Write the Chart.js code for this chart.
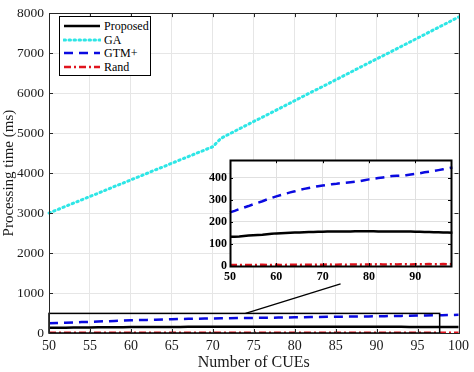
<!DOCTYPE html>
<html>
<head>
<meta charset="utf-8">
<script src="https://cdn.jsdelivr.net/npm/chart.js@4.4.1/dist/chart.umd.min.js"></script>
<style>
  html, body { margin: 0; padding: 0; background: #fff; }
  #wrap { position: relative; width: 474px; height: 372px; overflow: hidden; font-family: "Liberation Serif", serif; }
  #main { position: absolute; left: 0; top: 0; }
  #inset { position: absolute; left: 195px; top: 150px; }
  #legend { position: absolute; left: 59px; top: 16px; width: 90px; height: 58px; border: 1px solid #000; background: #fff; }
  #legend .row { position: absolute; left: 3px; height: 14px; font-size: 12px; line-height: 14px; }
  #legend svg { position: absolute; left: 0; top: 2px; }
  #legend span { position: absolute; left: 41px; top: 0; white-space: nowrap; }
</style>
</head>
<body>
<div id="wrap">
  <canvas id="main" width="474" height="372"></canvas>
  <canvas id="inset" width="262" height="140"></canvas>
  <div id="legend"></div>
</div>
<script>
// Datos (tiempo de procesamiento en ms por número de CUEs).
const CUES = [50, 51, 52, 53, 54, 55, 56, 57, 58, 59, 60, 61, 62, 63, 64, 65, 66, 67, 68, 69, 70,
  71, 72, 73, 74, 75, 76, 77, 78, 79, 80, 81, 82, 83, 84, 85, 86, 87, 88, 89, 90,
  91, 92, 93, 94, 95, 96, 97, 98, 99, 100];

const PROPOSED = [133, 133, 134, 136, 138, 140, 141, 142, 144, 146, 148, 149, 150, 151, 152, 152, 153, 154, 154, 155, 155,
  156, 156, 157, 157, 157, 157, 158, 158, 158, 158, 158, 157, 157, 157, 157, 157, 156, 156, 156, 155,
  155, 154, 154, 153, 153, 152, 152, 151, 151, 150];

const GA = [3000, 3082, 3165, 3250, 3330, 3415, 3495, 3580, 3665, 3745, 3830, 3910, 3995, 4080, 4160, 4245, 4330, 4410, 4495, 4575, 4660,
  4870, 4975, 5080, 5185, 5290, 5390, 5495, 5600, 5705, 5810, 5915, 6020, 6120, 6225, 6330, 6435, 6540, 6645, 6750, 6855,
  6955, 7060, 7165, 7270, 7375, 7480, 7585, 7690, 7795, 7900];

const GTM = [243, 250, 258, 265, 272, 280, 287, 294, 302, 309, 316, 322, 328, 334, 339, 345, 350, 354, 358, 362, 365,
  368, 371, 373, 376, 378, 380, 382, 385, 389, 393, 396, 399, 402, 405, 408, 409, 410, 412, 415, 418,
  421, 425, 428, 431, 435, 439, 443, 447, 451, 455];

const RAND = [4, 5, 4, 5, 5, 4, 5, 6, 5, 5, 6, 5, 5, 6, 6, 5, 6, 6, 5, 6, 6,
  7, 6, 6, 7, 6, 7, 7, 6, 7, 7, 7, 8, 7, 7, 8, 7, 8, 8, 7, 8,
  8, 8, 9, 8, 8, 9, 8, 9, 9, 9];

const MAIN_X_TICKS = [50, 55, 60, 65, 70, 75, 80, 85, 90, 95, 100];
const MAIN_Y_TICKS = [0, 1000, 2000, 3000, 4000, 5000, 6000, 7000, 8000];
const INSET_X_TICKS = [50, 60, 70, 80, 90];
const INSET_Y_TICKS = [0, 100, 200, 300, 400];

// Zona ampliada y línea que la une con el recuadro (coordenadas de datos del gráfico principal).
const ZOOM_X = [50, 97.7];
const ZOOM_Y = [0, 490];
const CONECTOR = [[74, 490], [85.6, 1230]];

const FUENTE = "'Liberation Serif', 'Times New Roman', serif";

const SERIES = [
  { label: "Proposed", data: PROPOSED, color: "#000000", dash: [], width: 2.5 },
  { label: "GA", data: GA, color: "#2ee6e6", dash: [1.5, 3.5], width: 3, cap: "round" },
  { label: "GTM+", data: GTM, color: "#0a0ae0", dash: [9, 6], width: 2.5 },
  { label: "Rand", data: RAND, color: "#e0141e", dash: [7, 3, 2, 3], width: 2.5 },
];

function puntos(arr) {
  return CUES.map((x, i) => ({ x: x, y: arr[i] }));
}

function datasets(lista) {
  return lista.map((s) => ({
    label: s.label,
    data: puntos(s.data),
    borderColor: s.color,
    borderWidth: s.width,
    borderDash: s.dash,
    borderCapStyle: s.cap || "butt",
    pointRadius: 0,
    tension: 0,
    fill: false,
    clip: 3,
  }));
}

// Caja de ejes al estilo MATLAB con marcas hacia dentro.
const cajaPlugin = {
  id: "caja",
  beforeDraw(chart, args, opts) {
    if (!opts.fondo) return;
    const a = chart.chartArea;
    chart.ctx.save();
    chart.ctx.fillStyle = opts.fondo;
    chart.ctx.fillRect(a.left, a.top, a.right - a.left, a.bottom - a.top);
    chart.ctx.restore();
  },
  afterDraw(chart, args, opts) {
    const ctx = chart.ctx;
    const a = chart.chartArea;
    const sx = chart.scales.x, sy = chart.scales.y;
    const m = opts.marca;
    ctx.save();
    ctx.strokeStyle = opts.color;
    ctx.lineWidth = 1;
    ctx.beginPath();
    sx.ticks.forEach((t) => {
      const p = Math.round(sx.getPixelForValue(t.value)) + 0.5;
      ctx.moveTo(p, a.bottom); ctx.lineTo(p, a.bottom - m);
      ctx.moveTo(p, a.top); ctx.lineTo(p, a.top + m);
    });
    sy.ticks.forEach((t) => {
      const p = Math.round(sy.getPixelForValue(t.value)) + 0.5;
      ctx.moveTo(a.left, p); ctx.lineTo(a.left + m, p);
      ctx.moveTo(a.right, p); ctx.lineTo(a.right - m, p);
    });
    ctx.stroke();
    ctx.lineWidth = opts.grosor;
    ctx.strokeRect(Math.round(a.left) + 0.5, Math.round(a.top) + 0.5,
      Math.round(a.right - a.left), Math.round(a.bottom - a.top));
    ctx.restore();
  },
};

// Recuadro de la zona ampliada y conector.
const zoomPlugin = {
  id: "zoomBox",
  afterDatasetsDraw(chart) {
    const ctx = chart.ctx;
    const sx = chart.scales.x, sy = chart.scales.y;
    const x0 = sx.getPixelForValue(ZOOM_X[0]), x1 = sx.getPixelForValue(ZOOM_X[1]);
    const y0 = sy.getPixelForValue(ZOOM_Y[0]), y1 = sy.getPixelForValue(ZOOM_Y[1]);
    ctx.save();
    ctx.strokeStyle = "#000";
    ctx.lineWidth = 1.5;
    ctx.strokeRect(x0, y1, x1 - x0, y0 - y1);
    ctx.lineWidth = 1.2;
    ctx.beginPath();
    ctx.moveTo(sx.getPixelForValue(CONECTOR[0][0]), sy.getPixelForValue(CONECTOR[0][1]));
    ctx.lineTo(sx.getPixelForValue(CONECTOR[1][0]), sy.getPixelForValue(CONECTOR[1][1]));
    ctx.stroke();
    ctx.restore();
  },
};

function soloTicks(lista) {
  return (scale) => {
    scale.ticks = lista.map((v) => ({ value: v }));
  };
}

const sinComas = (v) => String(v);

Chart.defaults.font.family = FUENTE;
Chart.defaults.color = "#000";

new Chart(document.getElementById("main"), {
  type: "line",
  data: { datasets: datasets(SERIES) },
  plugins: [cajaPlugin, zoomPlugin],
  options: {
    responsive: false,
    animation: false,
    devicePixelRatio: 1,
    layout: { padding: { left: 0, right: 9, top: 7, bottom: 0 } },
    plugins: {
      legend: { display: false },
      tooltip: { enabled: false },
      caja: { color: "#262626", grosor: 1, marca: 4 },
    },
    scales: {
      x: {
        type: "linear",
        min: 50, max: 100,
        afterBuildTicks: soloTicks(MAIN_X_TICKS),
        afterFit: (s) => { s.height = 39; },
        grid: { color: "#e6e6e6", drawTicks: false },
        border: { display: false },
        ticks: { font: { size: 14 }, padding: 5, maxRotation: 0, autoSkip: false, color: "#1a1a1a", callback: sinComas },
        title: { display: true, text: "Number of CUEs", font: { size: 16 }, padding: { top: 0, bottom: 0 }, color: "#1a1a1a" },
      },
      y: {
        type: "linear",
        min: 0, max: 8000,
        afterBuildTicks: soloTicks(MAIN_Y_TICKS),
        afterFit: (s) => { s.width = 49; },
        grid: { color: "#e6e6e6", drawTicks: false },
        border: { display: false },
        ticks: { font: { size: 13.5 }, padding: 5, color: "#1a1a1a", callback: sinComas },
        title: { display: true, text: "Processing time (ms)", font: { size: 15 }, padding: { top: 0, bottom: 0 }, color: "#1a1a1a" },
      },
    },
  },
});

new Chart(document.getElementById("inset"), {
  type: "line",
  data: { datasets: datasets(SERIES.filter((s) => s.label !== "GA")) },
  plugins: [cajaPlugin],
  options: {
    responsive: false,
    animation: false,
    devicePixelRatio: 1,
    layout: { padding: { left: 0, right: 6, top: 7, bottom: 0 } },
    plugins: {
      legend: { display: false },
      tooltip: { enabled: false },
      caja: { color: "#000", grosor: 2, marca: 3, fondo: "#fff" },
    },
    scales: {
      x: {
        type: "linear",
        min: 50, max: 97.7,
        afterBuildTicks: soloTicks(INSET_X_TICKS),
        afterFit: (s) => { s.height = 24; },
        grid: { color: "#e0e0e0", drawTicks: false },
        border: { display: false },
        ticks: { font: { size: 12, weight: "bold" }, padding: 4, maxRotation: 0, autoSkip: false, callback: sinComas },
      },
      y: {
        type: "linear",
        min: 0, max: 480,
        afterBuildTicks: soloTicks(INSET_Y_TICKS),
        afterFit: (s) => { s.width = 35; },
        grid: { color: "#e0e0e0", drawTicks: false },
        border: { display: false },
        ticks: { font: { size: 12, weight: "bold" }, padding: 3, callback: sinComas },
      },
    },
  },
});

// Leyenda en HTML, dentro del área del gráfico principal.
const legend = document.getElementById("legend");
SERIES.forEach((s, i) => {
  const row = document.createElement("div");
  row.className = "row";
  row.style.top = (2 + i * 13.6) + "px";
  const dash = s.dash.length ? ` stroke-dasharray="${s.dash.join(" ")}"` : "";
  const cap = s.cap ? ` stroke-linecap="${s.cap}"` : "";
  row.innerHTML = `<svg width="38" height="10"><line x1="1" y1="5" x2="37" y2="5" stroke="${s.color}" stroke-width="${s.width}"${dash}${cap}/></svg><span>${s.label}</span>`;
  legend.appendChild(row);
});
</script>
</body>
</html>
